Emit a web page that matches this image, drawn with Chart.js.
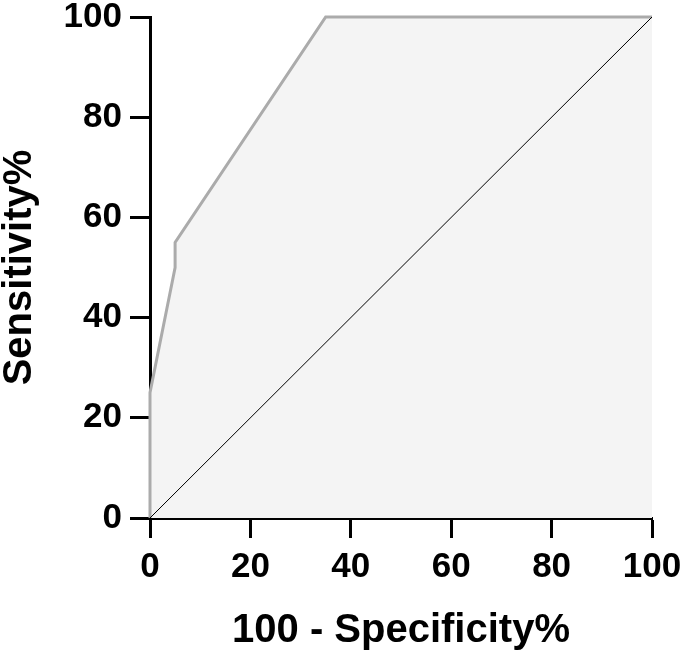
<!DOCTYPE html>
<html>
<head>
<meta charset="utf-8">
<script src="https://cdn.jsdelivr.net/npm/chart.js@4/dist/chart.umd.min.js"></script>
<style>
  html, body { margin: 0; padding: 0; background: #fff; }
  #wrap { width: 685px; height: 656px; }
</style>
</head>
<body>
<div id="wrap"><canvas id="roc" width="685" height="656"></canvas></div>
<script>
// ROC curve
const falsePos = [0, 0, 5, 5, 35, 100];      // 100 - Specificity%
const truePos = [0, 25, 50, 55, 100, 100];   // Sensitivity%
// reference line
const diagX = [0, 100];
const diagY = [0, 100];
const tickStep = 20;

const font = 'Liberation Sans, Arial, sans-serif';

const curve = falsePos.map((x, i) => ({ x: x, y: truePos[i] }));
const diag = diagX.map((x, i) => ({ x: x, y: diagY[i] }));

const axisTicks = {
  color: '#000',
  font: { family: font, size: 35, weight: 'bold', lineHeight: 1 },
  stepSize: tickStep,
  padding: 12
};

const config = {
  type: 'scatter',
  data: {
    datasets: [
      {
        data: diag,
        showLine: true,
        borderColor: '#000',
        borderWidth: 1,
        pointRadius: 0,
        fill: false,
        order: 0
      },
      {
        data: curve,
        showLine: true,
        borderColor: '#ababab',
        borderWidth: 3,
        backgroundColor: '#f4f4f4',
        pointRadius: 0,
        fill: 'origin',
        clip: 6,
        order: 1
      }
    ]
  },
  options: {
    responsive: false,
    animation: false,
    layout: { padding: { top: 17, right: 33, left: 0, bottom: 0 } },
    plugins: { legend: { display: false }, tooltip: { enabled: false } },
    scales: {
      x: {
        type: 'linear',
        min: 0,
        max: 100,
        border: { color: '#000', width: 3 },
        grid: { drawOnChartArea: false, drawTicks: true, tickLength: 20, tickWidth: 3, tickColor: '#000' },
        ticks: axisTicks,
        title: {
          display: true,
          text: '100 - Specificity%',
          color: '#000',
          font: { family: font, size: 40, weight: 'bold', lineHeight: 1 },
          padding: { top: 5, bottom: 5 }
        },
        afterFit: s => {
          s.height = 138;
          s.paddingLeft = 0; s.paddingRight = 0;
        }
      },
      y: {
        type: 'linear',
        min: 0,
        max: 100,
        border: { color: '#000', width: 3 },
        grid: { drawOnChartArea: false, drawTicks: true, tickLength: 20, tickWidth: 3, tickColor: '#000' },
        ticks: { ...axisTicks, padding: 8 },
        title: {
          display: true,
          text: 'Sensitivity%',
          color: '#000',
          font: { family: font, size: 40, weight: 'bold', lineHeight: 1 },
          padding: 0
        },
        afterFit: s => {
          s.width = 150;
          s.paddingTop = 0; s.paddingBottom = 0;
        }
      }
    }
  }
};

new Chart(document.getElementById('roc'), config);
</script>
</body>
</html>
